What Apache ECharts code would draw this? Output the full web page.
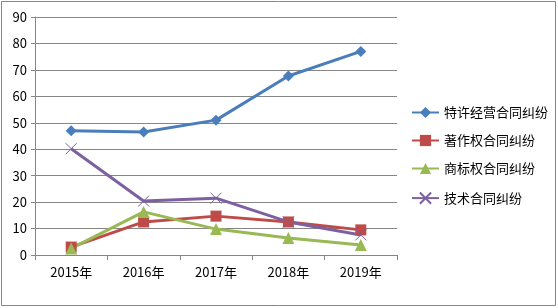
<!DOCTYPE html>
<html><head><meta charset="utf-8">
<script src="https://cdn.jsdelivr.net/npm/echarts@6/dist/echarts.min.js"></script>
<style>html,body{margin:0;padding:0;background:#fff}#c{width:558px;height:308px}</style>
</head><body><div id="c"></div>
<script>
var categories = ['2015年','2016年','2017年','2018年','2019年'];
var franchise = [47, 46.5, 51, 67.7, 77];
var copyright = [3, 12.5, 14.7, 12.5, 9.5];
var trademark = [2.5, 16.3, 9.8, 6.4, 3.8];
var technology = [40.2, 20.4, 21.5, 12.5, 7.6];
var names = ['特许经营合同纠纷','著作权合同纠纷','商标权合同纠纷','技术合同纠纷'];
var colors = ['#4A7EBB','#BE4B48','#98B954','#7D60A0'];
var crossPath = 'path://M0,0L10,10M10,0L0,10';

var chart = echarts.init(document.getElementById('c'));
function mk(i, data, symbol, size, extra) {
  var s = {
    name: names[i], type: 'line', data: data,
    symbol: symbol, symbolSize: size,
    lineStyle: {color: colors[i], width: 3},
    itemStyle: {color: colors[i]},
    emphasis: {disabled: true}, animation: false
  };
  if (extra) Object.assign(s, extra);
  return s;
}
chart.setOption({
  animation: false,
  textStyle: {fontFamily: '"Noto Sans CJK SC", "DejaVu Sans", sans-serif'},
  graphic: [{type: 'rect', shape: {x: 1.5, y: 1.5, width: 554, height: 304},
    style: {fill: 'none', stroke: '#868686', lineWidth: 1}}],
  grid: {left: 35, top: 17, width: 362, height: 238},
  legend: {
    orient: 'vertical', left: 406, top: 101, itemGap: 15,
    itemWidth: 27, itemHeight: 14,
    textStyle: {fontSize: 13, color: '#000'},
    data: names
  },
  xAxis: {
    type: 'category', data: categories, boundaryGap: true,
    axisLine: {lineStyle: {color: '#868686'}},
    axisTick: {show: true, length: 5, lineStyle: {color: '#868686'}},
    axisLabel: {color: '#000', fontSize: 13, margin: 11}
  },
  yAxis: {
    type: 'value', min: 0, max: 90, interval: 10,
    axisLine: {show: true, lineStyle: {color: '#868686'}},
    axisTick: {show: true, length: 4, lineStyle: {color: '#868686'}},
    splitLine: {lineStyle: {color: '#868686'}},
    axisLabel: {color: '#000', fontSize: 13, margin: 8}
  },
  series: [
    mk(0, franchise, 'diamond', 11),
    mk(1, copyright, 'rect', 11),
    mk(2, trademark, 'triangle', 12),
    mk(3, technology, crossPath, 11, {itemStyle: {color: 'none', borderColor: colors[3], borderWidth: 1}})
  ]
});
</script></body></html>
